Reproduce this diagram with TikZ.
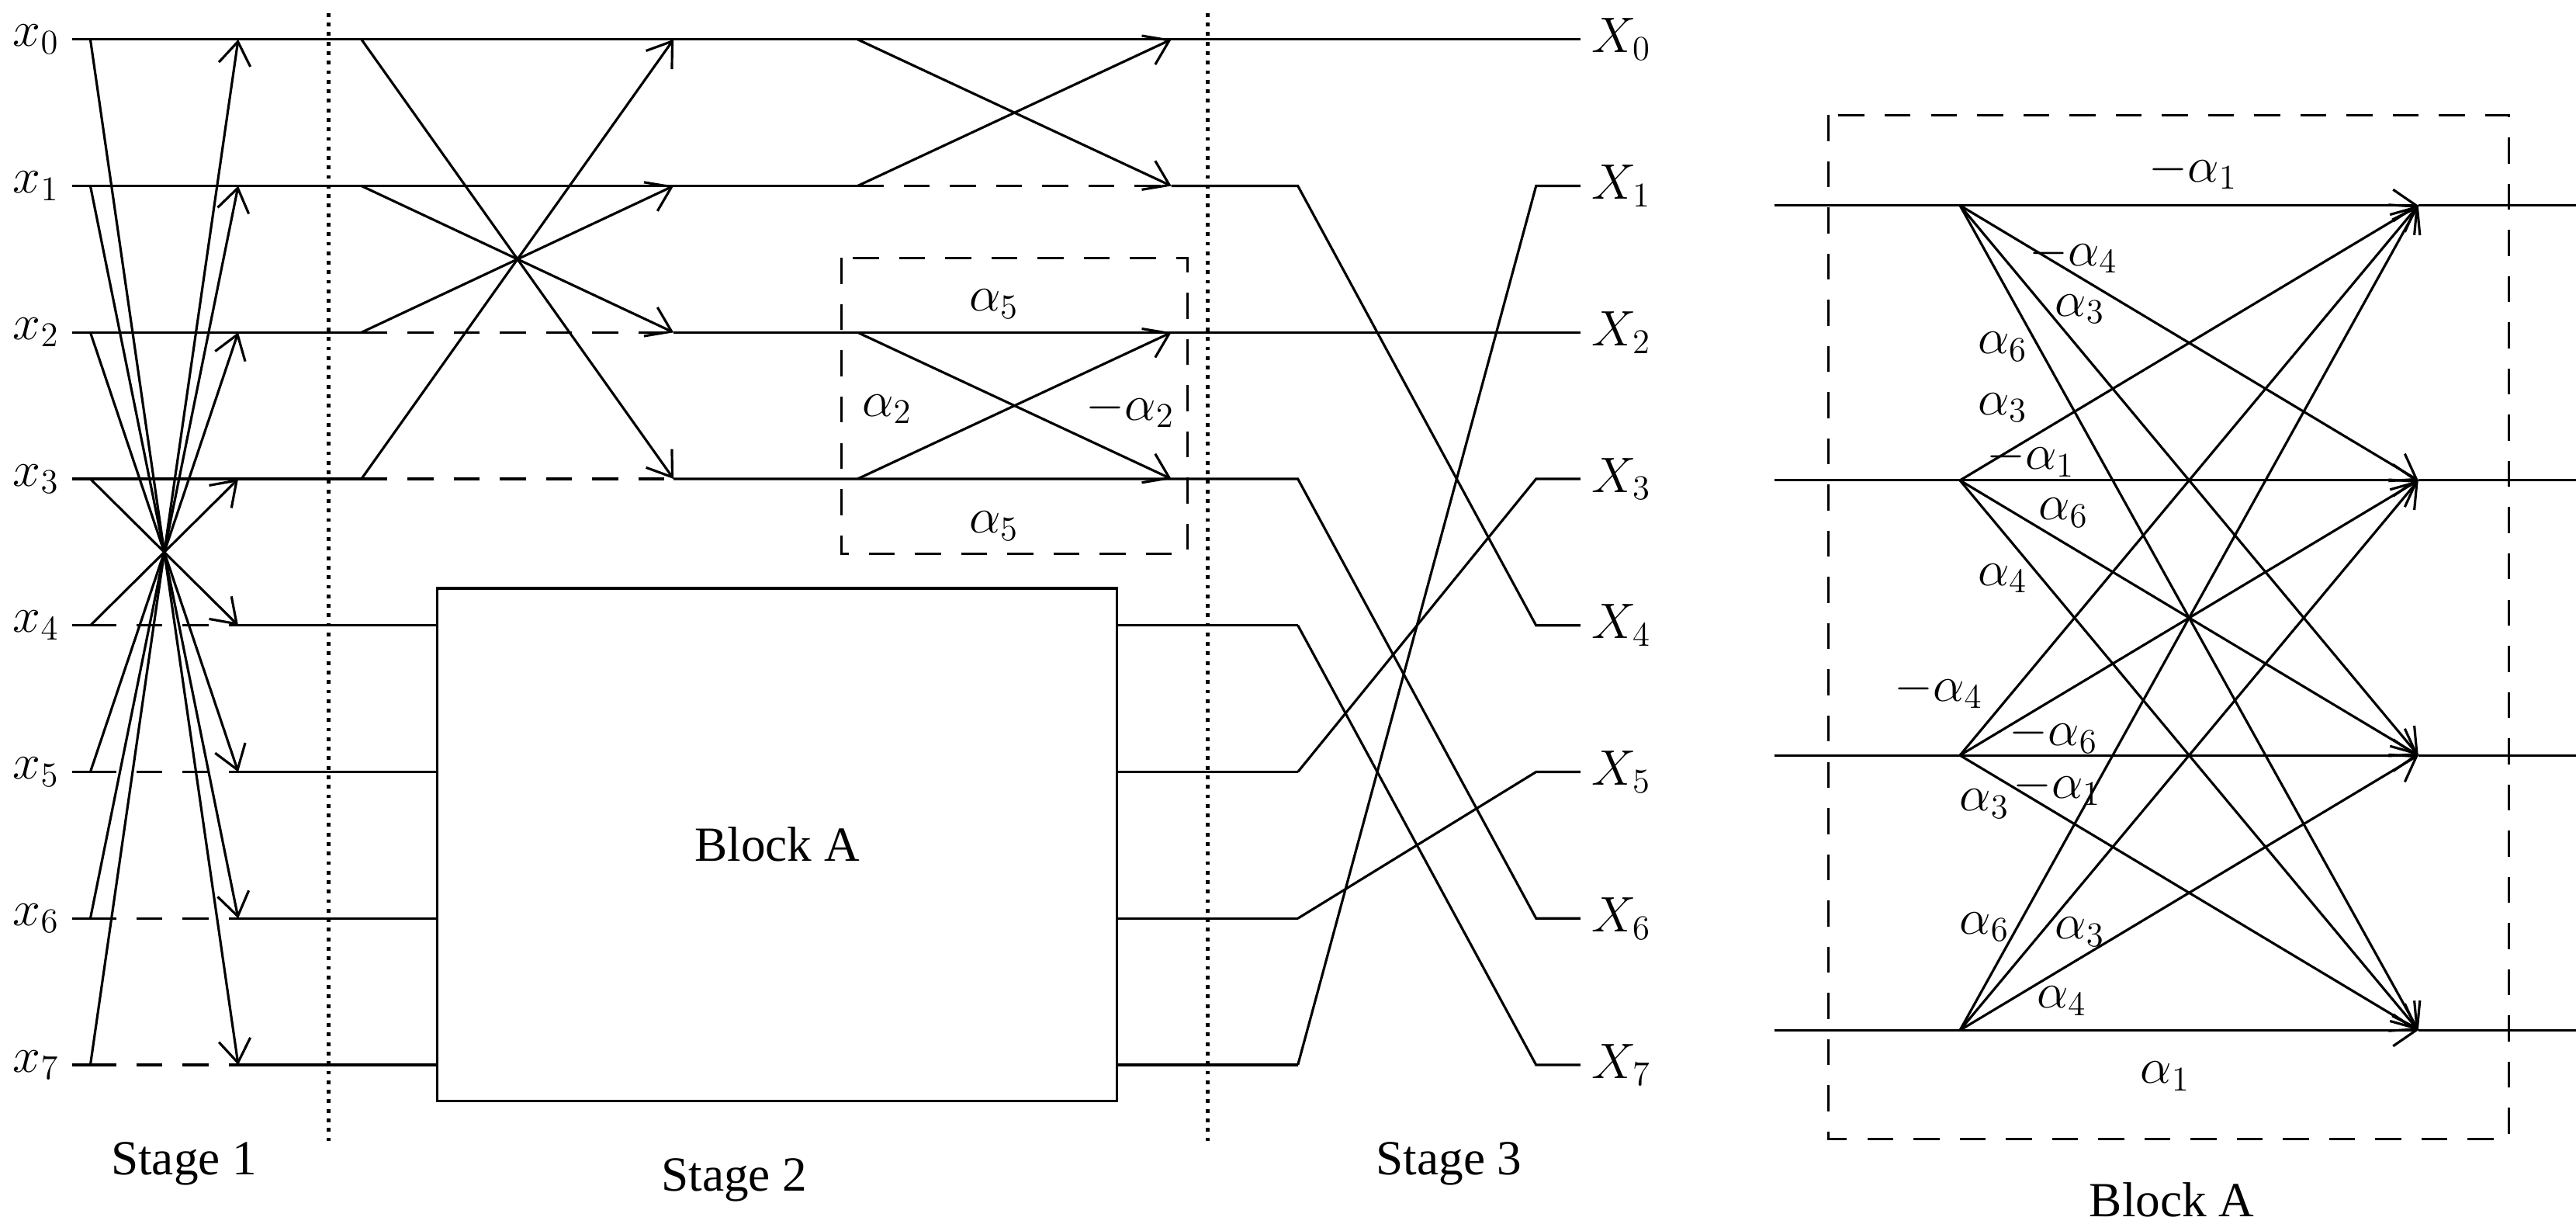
\documentclass[tikz,border=0pt]{standalone}
\usepackage{fontspec}
\setmainfont{Liberation Serif}
\usetikzlibrary{arrows.meta,calc}
\tikzset{wire/.style={
    line width=0.85pt}}
\tikzset{gap/.style={
    wire,
    dash pattern=on 9pt off 7pt}}
\tikzset{fly/.style={
    wire,
    -{Straight Barb[length=8pt,width=11pt]}}}

\begin{document}
\begin{tikzpicture}[x=0.02cm, y=-0.02cm, font=\fontsize{17}{20}\selectfont]
\useasboundingbox (0,0) rectangle (1568,749);

% rows of the left network
\foreach \i in {0,...,7}{
  \pgfmathsetmacro{\y}{24+89.14*\i}
  \node (x\i) at (22,\y) {$x_\i$};
  \node (X\i) at (987,\y) {$X_\i$};
  \coordinate (a\i) at (44,\y);
  \coordinate (s\i) at (55,\y);
  \coordinate (t\i) at (145,\y);
  \coordinate (u\i) at (220,\y);
  \coordinate (v\i) at (410,\y);
  \coordinate (p\i) at (522,\y);
  \coordinate (q\i) at (713,\y);
  \coordinate (r\i) at (790,\y);
  \coordinate (e\i) at (935,\y);
  \coordinate (f\i) at (962,\y);
}

\node[draw,
  wire,
  minimum width=8.28cm,
  minimum height=6.24cm] (blk) at (473,514) {Block A};

% stage 1
\foreach \i in {0,...,3}
  \draw[wire] (a\i) -- (t\i);
\foreach \i in {4,...,7}{
  \draw[wire] (a\i) -- (s\i);
  \draw[gap] (s\i) -- (t\i);
  \draw[wire] (t\i) -- (t\i -| blk.west);
  \draw[wire] (t\i -| blk.east) -- (r\i);
}
\foreach \i in {0,...,7}{
  \pgfmathtruncatemacro{\j}{7-\i}
  \draw[fly] (s\i) -- (t\j);
}

% stage 2
\draw[wire] (t0) -- (f0);
\draw[wire] (t1) -- (p1);
\draw[gap] (p1) -- (q1);
\draw[wire] (q1) -- (r1) -- (e4) -- (f4);
\draw[wire] (t2) -- (u2);
\draw[gap] (u2) -- (v2);
\draw[wire] (v2) -- (f2);
\draw[wire] (t3) -- (u3);
\draw[gap] (u3) -- (v3);
\draw[wire] (v3) -- (r3) -- (e6) -- (f6);
\foreach \i in {0,...,3}{
  \pgfmathtruncatemacro{\j}{3-\i}
  \draw[fly] (u\i) -- (v\j);
}
\draw[fly] (p0) -- (q1);
\draw[fly] (p1) -- (q0);
\draw[fly] (p2) -- (q3);
\draw[fly] (p3) -- (q2);
\draw[gap] (512,157) rectangle (723,337);
\node (w1) at (605,185) {$\alpha_5$};
\node (w2) at (540,249) {$\alpha_2$};
\node (w3) at (688,249) {$-\alpha_2$};
\node (w4) at (605,320) {$\alpha_5$};

% stage 3
\foreach \i/\k in {4/7,5/3,6/5,7/1}
  \draw[wire] (r\i) -- (e\k) -- (f\k);

\draw[dotted, line width=1.3pt] (200,8) -- (200,695);
\draw[dotted, line width=1.3pt] (735,8) -- (735,695);
\node (st1) at (112,708) {Stage 1};
\node (st2) at (447,718) {Stage 2};
\node (st3) at (882,708) {Stage 3};

% block A in detail
\foreach \i in {0,...,3}{
  \pgfmathsetmacro{\y}{125+167.3*\i}
  \coordinate (L\i) at (1080,\y);
  \coordinate (S\i) at (1193,\y);
  \coordinate (T\i) at (1472,\y);
  \coordinate (R\i) at (1568,\y);
}
\foreach \i in {0,...,3}{
  \draw[wire] (L\i) -- (S\i);
  \draw[wire] (T\i) -- (R\i);
  \foreach \j in {0,...,3}
    \draw[fly] (S\i) -- (T\j);
}
\draw[gap] (1113,70) rectangle (1527,693);
\node (c1) at (1335,104) {$-\alpha_1$};
\node (c2) at (1262,155) {$-\alpha_4$};
\node (c3) at (1266,188) {$\alpha_3$};
\node (c4) at (1219,211) {$\alpha_6$};
\node (c5) at (1219,248) {$\alpha_3$};
\node (c6) at (1236,279) {$-\alpha_1$};
\node (c7) at (1256,312) {$\alpha_6$};
\node (c8) at (1219,352) {$\alpha_4$};
\node (c9) at (1180,420) {$-\alpha_4$};
\node (c10) at (1250,447) {$-\alpha_6$};
\node (c11) at (1252,479) {$-\alpha_1$};
\node (c12) at (1208,489) {$\alpha_3$};
\node (c13) at (1208,564) {$\alpha_6$};
\node (c14) at (1266,567) {$\alpha_3$};
\node (c15) at (1255,609) {$\alpha_4$};
\node (c16) at (1318,655) {$\alpha_1$};
\node (blkA) at (1322,730) {Block A};
\end{tikzpicture}
\end{document}
